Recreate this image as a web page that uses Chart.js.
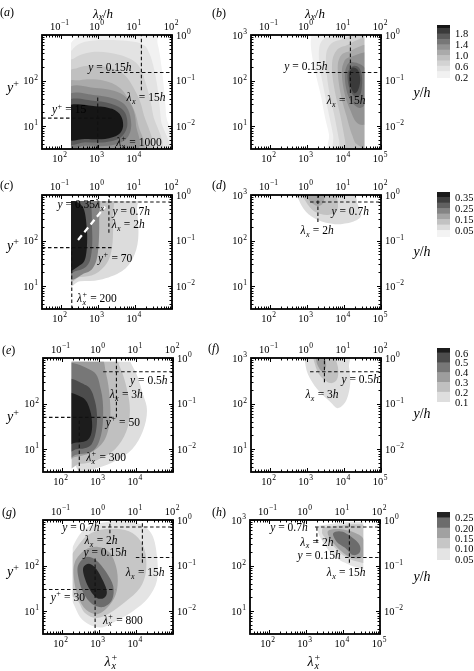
<!DOCTYPE html>
<html>
<head>
<meta charset="utf-8">
<script src="https://cdn.jsdelivr.net/npm/chart.js@4.4.0/dist/chart.umd.min.js"></script>
<style>
  body { margin: 0; background: #fff; }
  #fig { position: relative; width: 474px; height: 671px; overflow: hidden; font-family: "Liberation Serif", "DejaVu Serif", serif; color: #000; }
  #fig canvas { position: absolute; }
  .t { position: absolute; white-space: nowrap; line-height: 1; }
  .t sub { font-size: 0.72em; vertical-align: -0.25em; }
  .t sup { font-size: 0.72em; vertical-align: 0.45em; }
  .st { display: inline-block; position: relative; width: 0.5em; height: 1em; vertical-align: top; }
  .st span, .st i { position: absolute; left: 1px; font-size: 0.72em; }
</style>
</head>
<body>
<div id="fig"></div>
<script>
const FONT = '"Liberation Serif", "DejaVu Serif", serif';

// axes are in decades: log10(lambda_x+) and log10(y+), Re_tau = 1000
const xLim = [1.5, 5];
const yLim = [0.5, 3];
const topExps = [-1, 0, 1, 2];
const rightExps = [-2, -1, 0];
const bottomExpsL = [2, 3, 4];
const bottomExpsR = [2, 3, 4, 5];
const leftExpsL = [1, 2];
const leftExpsR = [1, 2, 3];

// colour levels (band edges and greys) for each colour bar
const edgesAB = [0.16, 0.4, 0.6, 0.8, 1.0, 1.2, 1.4, 1.6, 1.8, 2.0, 2.13];
const greysAB = ['#f1f1f1', '#e3e3e3', '#d3d3d3', '#c0c0c0', '#aaaaaa', '#929292', '#777777', '#5a5a5a', '#3a3a3a', '#161616'];
const cbTicksAB = [0.2, 0.6, 1.0, 1.4, 1.8];
const edgesCD = [-0.01, 0.05, 0.1, 0.15, 0.2, 0.25, 0.3, 0.35, 0.4];
const greysCD = ['#f3f3f3', '#dcdcdc', '#c2c2c2', '#a4a4a4', '#848484', '#616161', '#3e3e3e', '#1a1a1a'];
const cbTicksCD = [0.05, 0.15, 0.25, 0.35];
const edgesEF = [0.1, 0.2, 0.3, 0.4, 0.5, 0.6, 0.65];
const greysEF = ['#dedede', '#c0c0c0', '#9d9d9d', '#777777', '#4c4c4c', '#1c1c1c'];
const cbTicksEF = [0.1, 0.2, 0.3, 0.4, 0.5, 0.6];
const edgesGH = [0.045, 0.1, 0.15, 0.2, 0.25, 0.278];
const greysGH = ['#e4e4e4', '#c6c6c6', '#a1a1a1', '#6c6c6c', '#232323'];
const cbTicksGH = [0.05, 0.1, 0.15, 0.2, 0.25];

// contours: [level, [[log10 lambda+, log10 y+], ...]]
const contA = [
  [0.2, [[2.12,0.48],[2.15,2.45],[2.25,2.78],[2.47,2.96],[2.79,3.04],[4.41,3.04],[4.62,2.78],[4.76,2.01],[4.84,1.25],[4.89,0.37]]],
  [0.4, [[2.12,0.48],[2.15,2.34],[2.31,2.67],[2.66,2.85],[3.33,2.89],[4.14,2.82],[4.41,2.56],[4.60,1.90],[4.70,1.14],[4.76,0.37]]],
  [0.6, [[2.12,0.48],[2.15,2.19],[2.39,2.50],[2.93,2.63],[3.60,2.56],[4.09,2.34],[4.33,1.84],[4.49,1.25],[4.60,0.37]]],
  [0.8, [[2.12,0.48],[2.15,2.01],[2.47,2.28],[3.06,2.32],[3.65,2.17],[4.00,1.79],[4.22,1.31],[4.35,0.37]]],
  [1.0, [[2.12,0.48],[2.15,1.84],[2.52,2.01],[3.12,2.01],[3.60,1.84],[3.92,1.46],[4.09,1.03],[4.14,0.37]]],
  [1.2, [[2.12,0.43],[2.15,1.77],[2.93,1.84],[3.60,1.73],[3.92,1.44],[4.03,1.03],[3.98,0.43]]],
  [1.4, [[2.15,0.57],[2.15,1.64],[2.93,1.68],[3.55,1.57],[3.82,1.36],[3.90,0.98],[3.74,0.70],[3.28,0.57],[2.66,0.57]]],
  [1.6, [[2.15,0.65],[2.15,1.53],[2.93,1.55],[3.47,1.46],[3.74,1.29],[3.79,0.98],[3.60,0.74],[3.20,0.65],[2.66,0.65]]],
  [2.0, [[2.15,0.74],[2.15,1.42],[2.93,1.44],[3.39,1.38],[3.63,1.22],[3.68,0.98],[3.55,0.81],[3.20,0.72],[2.66,0.72]]]
];
const contB = [
  [0.2, [[3.30,3.11],[3.12,2.93],[3.14,2.56],[3.25,2.12],[3.39,1.64],[3.49,1.20],[3.60,0.81],[3.65,0.37],[4.84,0.37],[4.84,3.11]]],
  [0.4, [[3.76,2.98],[3.39,2.85],[3.33,2.45],[3.44,1.90],[3.57,1.36],[3.71,0.81],[3.79,0.37],[4.84,0.37],[4.84,2.98]]],
  [0.6, [[3.90,2.89],[3.57,2.71],[3.52,2.34],[3.60,1.79],[3.74,1.25],[3.87,0.70],[3.95,0.37],[4.84,0.37],[4.84,2.89]]],
  [0.8, [[4.03,2.76],[3.74,2.58],[3.68,2.23],[3.76,1.75],[3.90,1.25],[4.03,0.70],[4.11,0.37],[4.84,0.37],[4.84,2.76]]],
  [1.0, [[4.11,2.63],[3.87,2.47],[3.84,2.14],[3.92,1.68],[4.06,1.25],[4.22,0.81],[4.38,0.59],[4.84,0.59],[4.84,2.63]]],
  [1.2, [[4.17,2.52],[3.98,2.36],[3.95,2.08],[4.03,1.68],[4.17,1.36],[4.33,1.09],[4.54,1.03],[4.84,1.14],[4.84,2.52]]],
  [1.4, [[4.22,2.41],[4.06,2.28],[4.03,2.01],[4.11,1.68],[4.25,1.49],[4.44,1.40],[4.60,1.57],[4.60,2.23]]],
  [1.6, [[4.25,2.32],[4.11,2.19],[4.11,1.97],[4.19,1.75],[4.33,1.64],[4.46,1.73],[4.49,2.06],[4.41,2.28]]],
  [1.8, [[4.22,2.28],[4.14,2.12],[4.17,1.90],[4.27,1.73],[4.38,1.79],[4.44,2.01],[4.38,2.23]]]
];
const contC = [
  [0.05, [[2.12,3.09],[3.92,3.09],[4.06,2.65],[4.09,2.04],[3.95,1.62],[3.65,1.33],[3.06,1.14],[2.52,1.11],[2.12,1.11]]],
  [0.1, [[2.12,3.09],[3.33,3.09],[3.41,2.54],[3.39,1.88],[3.25,1.51],[2.93,1.27],[2.52,1.20],[2.12,1.20]]],
  [0.2, [[2.12,3.09],[2.98,3.09],[3.04,2.43],[3.01,1.77],[2.90,1.44],[2.66,1.29],[2.12,1.27]]],
  [0.25, [[2.12,3.09],[2.74,3.09],[2.85,2.21],[2.82,1.66],[2.68,1.42],[2.39,1.33],[2.12,1.33]]],
  [0.35, [[2.12,2.76],[2.58,2.76],[2.71,2.21],[2.68,1.66],[2.52,1.46],[2.12,1.42]]]
];
const contD = [
  [0.05, [[2.74,3.11],[2.79,2.89],[2.98,2.63],[3.30,2.45],[3.76,2.36],[4.22,2.41],[4.46,2.54],[4.38,2.78],[4.11,3.11]]],
  [0.1, [[2.90,3.11],[2.98,2.85],[3.22,2.63],[3.57,2.56],[3.82,2.67],[3.82,2.93],[3.71,3.11]]],
  [0.15, [[2.95,3.11],[3.06,2.89],[3.28,2.76],[3.44,2.82],[3.47,3.00],[3.36,3.11]]]
];
const contE = [
  [0.1, [[1.96,3.09],[3.52,3.09],[3.95,2.76],[4.19,2.21],[4.30,1.84],[4.19,1.40],[3.90,1.00],[3.39,0.72],[2.82,0.55],[2.50,0.50],[2.28,0.79],[1.96,1.20]]],
  [0.2, [[1.96,3.09],[3.30,3.09],[3.57,2.80],[3.76,2.32],[3.84,1.84],[3.74,1.38],[3.44,1.00],[2.95,0.76],[2.50,0.68],[1.96,0.72]]],
  [0.3, [[1.96,3.09],[2.98,3.07],[3.20,2.65],[3.30,2.10],[3.30,1.62],[3.14,1.18],[2.77,0.92],[2.36,0.83],[1.96,0.83]]],
  [0.4, [[1.96,2.75],[2.82,2.72],[3.06,2.30],[3.12,1.80],[3.06,1.30],[2.85,0.97],[2.40,0.88],[1.96,0.88]]],
  [0.5, [[1.96,2.45],[2.66,2.40],[2.90,2.05],[2.95,1.55],[2.80,1.10],[2.40,1.00],[1.96,1.00]]],
  [0.6, [[1.96,2.18],[2.55,2.14],[2.77,1.85],[2.82,1.45],[2.70,1.20],[2.36,1.14],[1.96,1.14]]]
];
const contF = [
  [0.1, [[2.90,3.15],[2.95,2.93],[3.03,2.65],[3.28,2.32],[3.63,2.04],[3.84,1.90],[4.06,2.06],[4.17,2.43],[4.14,2.80],[4.06,3.15]]],
  [0.2, [[3.17,3.15],[3.22,2.87],[3.36,2.61],[3.63,2.45],[3.82,2.54],[3.84,2.80],[3.71,3.07],[3.52,3.15]]],
  [0.3, [[3.25,3.07],[3.28,2.87],[3.41,2.71],[3.52,2.80],[3.49,2.98],[3.36,3.09]]]
];
const contG = [
  [0.05, [[2.12,2.08],[2.31,2.43],[2.55,2.74],[2.90,2.91],[3.57,2.98],[4.11,2.91],[4.44,2.67],[4.57,2.19],[4.57,1.68],[4.33,1.29],[3.92,1.00],[3.52,0.81],[3.12,0.65],[2.77,0.70],[2.50,0.87],[2.31,1.18],[2.12,1.40]]],
  [0.1, [[2.12,2.01],[2.36,2.34],[2.71,2.67],[3.17,2.80],[3.71,2.78],[4.06,2.61],[4.25,2.30],[4.27,1.86],[4.11,1.51],[3.71,1.20],[3.30,0.96],[2.95,0.85],[2.63,0.96],[2.42,1.25],[2.12,1.46]]],
  [0.15, [[2.36,2.08],[2.63,2.34],[2.98,2.41],[3.30,2.28],[3.49,1.90],[3.49,1.46],[3.30,1.14],[2.98,0.94],[2.66,1.03],[2.44,1.33],[2.33,1.73]]],
  [0.2, [[2.44,1.99],[2.66,2.19],[2.93,2.12],[3.20,1.86],[3.39,1.55],[3.36,1.25],[3.12,1.09],[2.82,1.16],[2.60,1.38],[2.47,1.68]]],
  [0.25, [[2.58,1.95],[2.74,2.04],[2.93,1.93],[3.12,1.66],[3.22,1.42],[3.14,1.29],[2.95,1.29],[2.77,1.46],[2.63,1.71]]]
];
const contH = [
  [0.05, [[3.33,2.74],[3.47,2.89],[4.73,2.89],[4.73,1.97],[4.35,1.97],[4.06,2.06],[3.79,2.19],[3.55,2.41]]],
  [0.1, [[3.44,2.74],[3.60,2.85],[4.73,2.85],[4.73,2.12],[4.33,2.10],[4.00,2.23],[3.74,2.43],[3.52,2.61]]],
  [0.15, [[3.60,2.76],[3.92,2.80],[4.35,2.71],[4.57,2.56],[4.57,2.21],[4.25,2.17],[3.95,2.32],[3.68,2.56]]],
  [0.2, [[3.74,2.71],[4.00,2.74],[4.41,2.50],[4.46,2.30],[4.27,2.23],[4.06,2.39],[3.84,2.52]]]
];

// extent of the data in each panel [xmin, xmax, ymin, ymax]
const domA = [2.28, 5, 0.5, 3];
const domB = [1.5, 4.55, 0.5, 3];
const domC = [2.28, 5, 0.5, 2.87];
const domD = [1.5, 5, 0.5, 3];
const domE = [2.27, 5, 0.5, 2.92];
const domF = [1.5, 5, 0.5, 3];
const domG = [2.30, 5, 0.5, 3];
const domH = [1.5, 4.55, 0.5, 3];

// dashed guide lines [x1, y1, x2, y2]
const guidesA = [[1.5,1.176,3.44,1.176],[3,0.5,3,1.64],[3.06,2.176,5,2.176],[4.176,1.79,4.176,3]];
const guidesB = [[3.03,2.176,4.9,2.176],[4.176,1.73,4.176,3]];
const guidesC = [[1.5,1.845,3.39,1.845],[2.301,0.5,2.301,1.845],[3.12,2.845,5,2.845],[3.301,2.17,3.301,3]];
const diagC = [[2.47,2.014,3.2,2.744]];
const guidesD = [[3.09,2.845,5,2.845],[3.301,2.41,3.301,3]];
const guidesE = [[3.12,2.699,5,2.699],[3.477,1.70,3.477,3],[1.5,1.699,3.44,1.699],[2.477,0.5,2.477,1.699]];
const guidesF = [[3.09,2.699,5,2.699],[3.477,2.47,3.477,3]];
const guidesG = [[3.09,2.845,5,2.845],[3.301,2.71,3.301,3],[4.00,2.176,5,2.176],[4.176,2.06,4.176,3],[1.5,1.477,3.44,1.477],[2.903,0.5,2.903,2.19]];
const guidesH = [[3.25,2.845,5,2.845],[3.301,2.50,3.301,2.845],[4.06,2.176,5,2.176],[4.176,2.06,4.176,3]];

// annotations [x, y, text]
const notesA = [[3.33,2.30,'y = 0.15h'],[4.30,1.64,'λ_x = 15h'],[2.23,1.36,'y^+ = 15'],[4.11,0.65,'λ_x^+ = 1000']];
const notesB = [[2.98,2.32,'y = 0.15h'],[4.06,1.57,'λ_x = 15h']];
const notesC = [[2.55,2.80,'y = 0.35λ_x'],[3.90,2.65,'y = 0.7h'],[3.82,2.36,'λ_x = 2h'],[3.47,1.62,'y^+ = 70'],[2.98,0.74,'λ_x^+ = 200']];
const notesD = [[4.17,2.65,'y = 0.7h'],[3.28,2.23,'λ_x = 2h']];
const notesE = [[4.35,2.50,'y = 0.5h'],[3.74,2.21,'λ_x = 3h'],[3.65,1.60,'y^+ = 50'],[3.20,0.83,'λ_x^+ = 300']];
const notesF = [[4.44,2.54,'y = 0.5h'],[3.41,2.21,'λ_x = 3h']];
const notesG = [[2.52,2.85,'y = 0.7h'],[3.06,2.56,'λ_x = 2h'],[3.17,2.30,'y = 0.15h'],[4.25,1.86,'λ_x = 15h'],[2.17,1.31,'y^+ = 30'],[3.65,0.81,'λ_x^+ = 800']];
const notesH = [[2.55,2.85,'y = 0.7h'],[3.30,2.52,'λ_x = 2h'],[3.36,2.23,'y = 0.15h'],[4.09,1.86,'λ_x = 15h']];

const fig = document.getElementById('fig');

function levelColor(lev, edges, greys) {
  for (let i = greys.length - 1; i >= 0; i--) if (lev >= edges[i] - 1e-9) return greys[i];
  return greys[0];
}

// closed catmull-rom curve through pixel points
function closedSpline(ctx, pts) {
  const n = pts.length;
  ctx.moveTo(pts[0].x, pts[0].y);
  for (let i = 0; i < n; i++) {
    const p0 = pts[(i + n - 1) % n], p1 = pts[i], p2 = pts[(i + 1) % n], p3 = pts[(i + 2) % n];
    ctx.bezierCurveTo(p1.x + (p2.x - p0.x) / 6, p1.y + (p2.y - p0.y) / 6,
                      p2.x - (p3.x - p1.x) / 6, p2.y - (p3.y - p1.y) / 6, p2.x, p2.y);
  }
  ctx.closePath();
}

function isLetter(c) { return /[a-zλ]/i.test(c); }

// tiny math text: letters italic, _x subscript, ^+ superscript
function drawMath(ctx, s, cx, cy, size, color) {
  const runs = [];
  for (let i = 0; i < s.length; i++) {
    const c = s[i];
    if ((c === '_' || c === '^') && runs.length) runs[runs.length - 1][c === '_' ? 'sub' : 'sup'] = s[++i];
    else runs.push({ t: c });
  }
  const big = it => (it ? 'italic ' : '') + size + 'px ' + FONT;
  const small = it => (it ? 'italic ' : '') + (size * 0.7) + 'px ' + FONT;
  let w = 0;
  runs.forEach(r => {
    ctx.font = big(isLetter(r.t));
    r.w = r.t === ' ' ? size * 0.25 : ctx.measureText(r.t).width;
    let sw = 0;
    if (r.sub) { ctx.font = small(true); sw = Math.max(sw, ctx.measureText(r.sub).width); }
    if (r.sup) { ctx.font = small(false); sw = Math.max(sw, ctx.measureText(r.sup).width); }
    r.sw = sw ? sw + 0.8 : 0;
    w += r.w + r.sw;
  });
  let xx = cx - w / 2;
  const base = cy + size * 0.32;
  ctx.fillStyle = color;
  ctx.textAlign = 'left';
  ctx.textBaseline = 'alphabetic';
  runs.forEach(r => {
    if (r.t !== ' ') { ctx.font = big(isLetter(r.t)); ctx.fillText(r.t, xx, base); }
    xx += r.w;
    if (r.sub) { ctx.font = small(true); ctx.fillText(r.sub, xx + 0.4, base + size * 0.25); }
    if (r.sup) { ctx.font = small(false); ctx.fillText(r.sup, xx + 0.4, base - size * 0.4); }
    xx += r.sw;
  });
}

// "10^e" tick label
function drawPow(ctx, e, px, py, align) {
  const ex = e < 0 ? '\u2212' + (-e) : String(e);
  ctx.font = '10.5px ' + FONT;
  const wb = ctx.measureText('10').width;
  ctx.font = '7.5px ' + FONT;
  const we = ctx.measureText(ex).width;
  const tw = wb + we + 0.5;
  let x0 = align === 'left' ? px : align === 'right' ? px - tw : px - tw / 2;
  const base = py + 3.6;
  ctx.fillStyle = '#000';
  ctx.textAlign = 'left';
  ctx.textBaseline = 'alphabetic';
  ctx.font = '10.5px ' + FONT;
  ctx.fillText('10', x0, base);
  ctx.font = '7.5px ' + FONT;
  ctx.fillText(ex, x0 + wb + 0.5, base - 4.6);
}

function panelPlugin(p) {
  return {
    id: 'panel_' + p.id,
    beforeDatasetsDraw(chart) {
      const { ctx, chartArea: a, scales: { x, y } } = chart;
      const d = p.domain;
      const x0 = Math.max(a.left, x.getPixelForValue(10 ** d[0]));
      const x1 = Math.min(a.right, x.getPixelForValue(10 ** d[1]));
      const y0 = Math.max(a.top, y.getPixelForValue(10 ** d[3]));
      const y1 = Math.min(a.bottom, y.getPixelForValue(10 ** d[2]));
      ctx.save();
      ctx.beginPath();
      ctx.rect(x0, y0, x1 - x0, y1 - y0);
      ctx.clip();
      chart.data.datasets.forEach(ds => {
        const pts = ds.data.map(q => ({ x: x.getPixelForValue(q.x), y: y.getPixelForValue(q.y) }));
        ctx.beginPath();
        closedSpline(ctx, pts);
        ctx.fillStyle = ds.backgroundColor;
        ctx.fill();
      });
      ctx.restore();
    },
    afterDatasetsDraw(chart) {
      const { ctx, chartArea: a, scales: { x, y } } = chart;
      ctx.save();
      ctx.beginPath();
      ctx.rect(a.left, a.top, a.width, a.height);
      ctx.clip();
      const line = (g, color, width, dash) => {
        ctx.strokeStyle = color;
        ctx.lineWidth = width;
        ctx.setLineDash(dash);
        ctx.beginPath();
        ctx.moveTo(x.getPixelForValue(10 ** g[0]), y.getPixelForValue(10 ** g[1]));
        ctx.lineTo(x.getPixelForValue(10 ** g[2]), y.getPixelForValue(10 ** g[3]));
        ctx.stroke();
      };
      p.guides.forEach(g => line(g, '#111', 1.1, [3.5, 2.5]));
      (p.white || []).forEach(g => line(g, '#fff', 2.2, [6, 4]));
      ctx.setLineDash([]);
      ctx.restore();
      p.notes.forEach(n => drawMath(ctx, n[2], x.getPixelForValue(10 ** n[0]), y.getPixelForValue(10 ** n[1]), 11.5, '#000'));
    },
    afterDraw(chart) {
      const { ctx, chartArea: a, scales: { x, y } } = chart;
      ctx.save();
      ctx.strokeStyle = '#000';
      ctx.lineWidth = 1;
      ctx.beginPath();
      for (let e = 1; e <= 5; e++) {
        for (let k = 1; k < 10; k++) {
          const v = Math.log10(k * 10 ** e);
          if (v < xLim[0] - 1e-6 || v > xLim[1] + 1e-6) continue;
          const px = Math.round(x.getPixelForValue(k * 10 ** e)) + 0.5;
          const len = k === 1 ? 4 : 2.5;
          ctx.moveTo(px, a.bottom); ctx.lineTo(px, a.bottom - len);
          ctx.moveTo(px, a.top); ctx.lineTo(px, a.top + len);
        }
      }
      for (let e = 0; e <= 3; e++) {
        for (let k = 1; k < 10; k++) {
          const v = Math.log10(k * 10 ** e);
          if (v < yLim[0] - 1e-6 || v > yLim[1] + 1e-6) continue;
          const py = Math.round(y.getPixelForValue(k * 10 ** e)) + 0.5;
          const len = k === 1 ? 4 : 2.5;
          ctx.moveTo(a.left, py); ctx.lineTo(a.left + len, py);
          ctx.moveTo(a.right, py); ctx.lineTo(a.right - len, py);
        }
      }
      ctx.stroke();
      ctx.lineWidth = 1.8;
      ctx.strokeRect(a.left, a.top, a.width, a.height);
      ctx.restore();
      p.bottomExps.forEach(e => drawPow(ctx, e, x.getPixelForValue(10 ** e) - 1, a.bottom + 9, 'center'));
      topExps.forEach(e => drawPow(ctx, e, x.getPixelForValue(10 ** (e + 3)) - 1, a.top - 9, 'center'));
      p.leftExps.forEach(e => drawPow(ctx, e, a.left - 4, y.getPixelForValue(10 ** e), 'right'));
      rightExps.forEach(e => drawPow(ctx, e, a.right + 4, y.getPixelForValue(10 ** (e + 3)), 'left'));
    }
  };
}

function makePanel(p) {
  const c = document.createElement('canvas');
  c.width = 220; c.height = 174;
  c.style.left = (p.x - 45) + 'px';
  c.style.top = (p.y - 30) + 'px';
  fig.appendChild(c);
  const datasets = p.contours.map(([lev, pts]) => ({
    data: pts.map(q => ({ x: 10 ** q[0], y: 10 ** q[1] })),
    backgroundColor: levelColor(lev, p.edges, p.greys),
    pointRadius: 0,
    showLine: false
  }));
  new Chart(c, {
    type: 'scatter',
    data: { datasets },
    options: {
      responsive: false,
      animation: false,
      events: [],
      layout: { padding: { left: 45, right: 45, top: 30, bottom: 30 } },
      scales: {
        x: { type: 'logarithmic', min: 10 ** xLim[0], max: 10 ** xLim[1], display: false },
        y: { type: 'logarithmic', min: 10 ** yLim[0], max: 10 ** yLim[1], display: false }
      },
      plugins: { legend: { display: false }, tooltip: { enabled: false } }
    },
    plugins: [panelPlugin(p)]
  });
}

function makeColorbar(top, height, edges, greys, ticks, digits) {
  const c = document.createElement('canvas');
  c.width = 49; c.height = height + 10;
  c.style.left = '425px';
  c.style.top = (top - 5) + 'px';
  fig.appendChild(c);
  new Chart(c, {
    type: 'bar',
    data: {
      labels: [''],
      datasets: greys.map((g, i) => ({
        data: [[edges[i], edges[i + 1]]],
        backgroundColor: g,
        grouped: false,
        barPercentage: 1,
        categoryPercentage: 1,
        borderWidth: 0
      }))
    },
    options: {
      responsive: false,
      animation: false,
      events: [],
      layout: { padding: { left: 12, right: 24, top: 5, bottom: 5 } },
      scales: {
        x: { display: false },
        y: { display: false, min: edges[0], max: edges[edges.length - 1] }
      },
      plugins: { legend: { display: false }, tooltip: { enabled: false } }
    },
    plugins: [{
      id: 'cbticks',
      afterDraw(chart) {
        const { ctx, chartArea: a, scales: { y } } = chart;
        ctx.fillStyle = '#000';
        ctx.font = '10.5px ' + FONT;
        ctx.textAlign = 'left';
        ctx.textBaseline = 'alphabetic';
        ticks.forEach(t => ctx.fillText(t.toFixed(digits), a.right + 5, y.getPixelForValue(t) + 3.6));
      }
    }]
  });
}

function addText(html, x, y, size, anchor) {
  const d = document.createElement('div');
  d.className = 't';
  d.innerHTML = html;
  d.style.left = x + 'px';
  d.style.top = y + 'px';
  d.style.fontSize = size + 'px';
  d.style.transform = anchor === 'left' ? 'translate(0,-50%)' : 'translate(-50%,-50%)';
  fig.appendChild(d);
}

const panels = [
  { id: 'a', x: 42, y: 35, contours: contA, edges: edgesAB, greys: greysAB, domain: domA, guides: guidesA, notes: notesA, bottomExps: bottomExpsL, leftExps: leftExpsL },
  { id: 'b', x: 251, y: 35, contours: contB, edges: edgesAB, greys: greysAB, domain: domB, guides: guidesB, notes: notesB, bottomExps: bottomExpsR, leftExps: leftExpsR },
  { id: 'c', x: 42, y: 195, contours: contC, edges: edgesCD, greys: greysCD, domain: domC, guides: guidesC, white: diagC, notes: notesC, bottomExps: bottomExpsL, leftExps: leftExpsL },
  { id: 'd', x: 251, y: 195, contours: contD, edges: edgesCD, greys: greysCD, domain: domD, guides: guidesD, notes: notesD, bottomExps: bottomExpsR, leftExps: leftExpsR },
  { id: 'e', x: 43, y: 358, contours: contE, edges: edgesEF, greys: greysEF, domain: domE, guides: guidesE, notes: notesE, bottomExps: bottomExpsL, leftExps: leftExpsL },
  { id: 'f', x: 251, y: 358, contours: contF, edges: edgesEF, greys: greysEF, domain: domF, guides: guidesF, notes: notesF, bottomExps: bottomExpsR, leftExps: leftExpsR },
  { id: 'g', x: 43, y: 520, contours: contG, edges: edgesGH, greys: greysGH, domain: domG, guides: guidesG, notes: notesG, bottomExps: bottomExpsL, leftExps: leftExpsL },
  { id: 'h', x: 250, y: 520, contours: contH, edges: edgesGH, greys: greysGH, domain: domH, guides: guidesH, notes: notesH, bottomExps: bottomExpsR, leftExps: leftExpsR }
];
panels.forEach(makePanel);

makeColorbar(25, 53, edgesAB, greysAB, cbTicksAB, 1);
makeColorbar(192, 45, edgesCD, greysCD, cbTicksCD, 2);
makeColorbar(348, 54, edgesEF, greysEF, cbTicksEF, 1);
makeColorbar(512, 48, edgesGH, greysGH, cbTicksGH, 2);

// panel letters and axis titles
[['a', 0, 12], ['b', 212, 13], ['c', 0, 185], ['d', 212, 185], ['e', 2, 350], ['f', 208, 348], ['g', 2, 512], ['h', 212, 512]]
  .forEach(([l, x, y]) => addText('(<i>' + l + '</i>)', x, y, 12, 'left'));
[103, 315].forEach(x => addText('<i>λ<sub>x</sub></i>/<i>h</i>', x, 15, 13));
[87, 245, 416, 571].forEach(y => addText('<i>y</i><sup>+</sup>', 13, y, 14));
[93, 252, 414, 577].forEach(y => addText('<i>y</i>/<i>h</i>', 422, y, 14));
[111, 314].forEach(x => addText('<i>λ</i><span class="st"><span style="top:-0.2em">+</span><i style="top:0.55em">x</i></span>', x, 662, 14));
</script>
</body>
</html>
